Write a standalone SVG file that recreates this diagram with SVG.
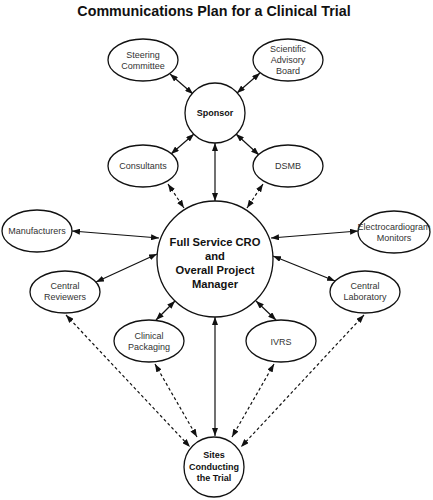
<svg xmlns="http://www.w3.org/2000/svg" width="433" height="500" viewBox="0 0 433 500">
<defs>
<marker id="ah" viewBox="0 0 8 6" refX="8" refY="3" markerWidth="8" markerHeight="6" markerUnits="userSpaceOnUse" orient="auto-start-reverse">
<path d="M0,0 L8,3 L0,6 z" fill="#111"/>
</marker>
</defs>
<style>
.bg{fill:#fff}
.n{fill:#fff;stroke:#111;stroke-width:1.3}
.t{font-family:"Liberation Sans",Arial,sans-serif;font-size:9px;fill:#333;text-anchor:middle}
.b{font-family:"Liberation Sans",Arial,sans-serif;font-weight:bold;fill:#111;text-anchor:middle}
.c{stroke:#111;stroke-width:1.2;fill:none;marker-start:url(#ah);marker-end:url(#ah)}
.d{stroke-dasharray:3 2.5}
</style>
<rect class="bg" x="0" y="0" width="433" height="500"/>
<text id="title" class="b" x="214" y="16" font-size="14.3">Communications Plan for a Clinical Trial</text>
<g id="connectors">
<line class="c" x1="170" y1="74" x2="193" y2="94"/>
<line class="c" x1="260" y1="73" x2="237" y2="93"/>
<line class="c" x1="171" y1="154" x2="194" y2="134"/>
<line class="c" x1="259" y1="155" x2="236" y2="134"/>
<line class="c" x1="215" y1="143" x2="215" y2="201"/>
<line class="c d" x1="168" y1="184" x2="184" y2="208"/>
<line class="c d" x1="263" y1="184" x2="247" y2="208"/>
<line class="c" x1="72" y1="231" x2="159" y2="238"/>
<line class="c" x1="358" y1="231" x2="271" y2="238"/>
<line class="c" x1="96" y1="282" x2="157" y2="254"/>
<line class="c" x1="335" y1="281" x2="273" y2="256"/>
<line class="c" x1="156" y1="320" x2="175" y2="301"/>
<line class="c" x1="276" y1="320" x2="256" y2="301"/>
<line class="c" x1="215" y1="317" x2="215" y2="436"/>
<line class="c d" x1="66" y1="315" x2="190" y2="447"/>
<line class="c d" x1="155" y1="364" x2="197" y2="437"/>
<line class="c d" x1="274" y1="364" x2="232" y2="437"/>
<line class="c d" x1="364" y1="315" x2="241" y2="447"/>
</g>
<g id="steering"><ellipse class="n" cx="143" cy="60" rx="35" ry="21"/><text class="t" x="143" y="58">Steering</text><text class="t" x="143" y="69">Committee</text></g>
<g id="sab"><ellipse class="n" cx="288" cy="60" rx="35" ry="21"/><text class="t" x="288" y="52">Scientific</text><text class="t" x="288" y="63">Advisory</text><text class="t" x="288" y="74">Board</text></g>
<g id="sponsor"><circle class="n" cx="215" cy="113" r="30"/><text class="b" x="215" y="116" font-size="9">Sponsor</text></g>
<g id="consultants"><ellipse class="n" cx="143" cy="166" rx="35" ry="21"/><text class="t" x="143" y="169">Consultants</text></g>
<g id="dsmb"><ellipse class="n" cx="288" cy="166" rx="35" ry="21"/><text class="t" x="288" y="169">DSMB</text></g>
<g id="cro"><circle class="n" cx="215" cy="259" r="58"/>
<text class="b" x="215" y="246" font-size="11.2">Full Service CRO</text>
<text class="b" x="215" y="260" font-size="11.2">and</text>
<text class="b" x="215" y="274" font-size="11.2">Overall Project</text>
<text class="b" x="215" y="287.5" font-size="11.2">Manager</text></g>
<g id="manufacturers"><ellipse class="n" cx="37" cy="231" rx="35" ry="21"/><text class="t" x="37" y="234">Manufacturers</text></g>
<g id="ecg"><ellipse class="n" cx="394" cy="232" rx="36" ry="21"/><text class="t" x="394" y="230">Electrocardiogram</text><text class="t" x="394" y="241">Monitors</text></g>
<g id="reviewers"><ellipse class="n" cx="65" cy="292" rx="35" ry="21"/><text class="t" x="65" y="289">Central</text><text class="t" x="65" y="300">Reviewers</text></g>
<g id="lab"><ellipse class="n" cx="365" cy="292" rx="35" ry="21"/><text class="t" x="365" y="289">Central</text><text class="t" x="365" y="300">Laboratory</text></g>
<g id="packaging"><ellipse class="n" cx="149" cy="341" rx="35" ry="21"/><text class="t" x="149" y="339">Clinical</text><text class="t" x="149" y="350">Packaging</text></g>
<g id="ivrs"><ellipse class="n" cx="281" cy="341" rx="35" ry="21"/><text class="t" x="281" y="345">IVRS</text></g>
<g id="sites"><circle class="n" cx="214" cy="467" r="30"/>
<text class="b" x="214" y="458" font-size="9">Sites</text>
<text class="b" x="214" y="470" font-size="9">Conducting</text>
<text class="b" x="214" y="481" font-size="9">the Trial</text></g>
</svg>
